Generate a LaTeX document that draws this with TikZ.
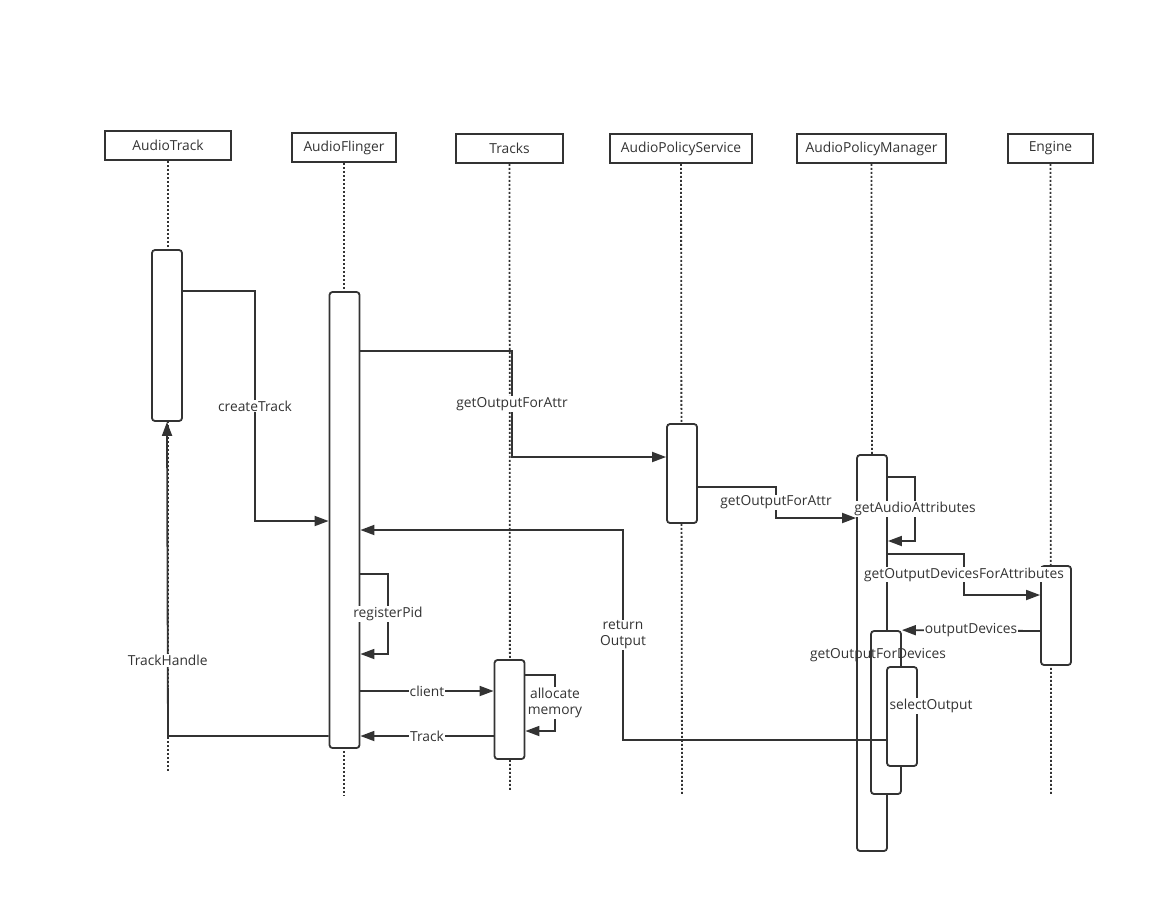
\documentclass[tikz,border=0pt]{standalone}
\usepackage{fontspec}
\setmainfont{Open Sans}
\usetikzlibrary{arrows.meta}
\definecolor{ink}{HTML}{333333}
\begin{document}
\begin{tikzpicture}[x=1pt,y=-1pt,
  every node/.style={font=\fontsize{13.8}{16}\selectfont, text=ink},
  head/.style={draw=ink, line width=1.8pt, fill=white, minimum height=29pt, inner sep=0pt},
  act/.style={draw=ink, line width=1.8pt, fill=white, rounded corners=3pt, minimum width=30pt, inner sep=0pt},
  life/.style={draw=ink, line width=1.8pt, dash pattern=on 2pt off 2pt},
  msg/.style={draw=ink, line width=1.8pt, -{Triangle[length=14pt,width=10pt]}},
  lbl/.style={fill=white, inner sep=1pt, align=center},
]
\useasboundingbox (0,0) rectangle (1155,913);
% lifeline ends
\coordinate (eAT) at (168,772);
\coordinate (eAF) at (344,795);
\coordinate (eTr) at (510,790);
\coordinate (eAPS) at (682,795);
\coordinate (eAPM) at (872,455);
\coordinate (eEng) at (1051,795);
% heads
\node[head, minimum width=126pt] (hAT) at (168,145.5) {AudioTrack};
\node[head, minimum width=104pt] (hAF) at (344,147.5) {AudioFlinger};
\node[head, minimum width=107pt] (hTr) at (509.5,148.5) {Tracks};
\node[head, minimum width=142pt] (hAPS) at (681,148.5) {AudioPolicyService};
\node[head, minimum width=149pt] (hAPM) at (871.5,148.5) {AudioPolicyManager};
\node[head, minimum width=85pt] (hEng) at (1050.5,148.5) {Engine};
% lifelines
\draw[life] (hAT.south) -- (eAT);
\draw[life] (hAF.south) -- (eAF);
\draw[life] (hTr.south) -- (eTr);
\draw[life] (hAPS.south) -- (eAPS);
\draw[life] (hAPM.south) -- (eAPM);
\draw[life] (hEng.south) -- (eEng);
% activations
\node[act, minimum height=171pt] (aAT) at (167,335.5) {};
\node[act, minimum height=456pt] (aAF) at (344.5,520) {};
\node[act, minimum height=99pt] (aTr) at (509.5,709.5) {};
\node[act, minimum height=99pt] (aAPS) at (682,473.5) {};
\node[act, minimum height=396pt] (aAPM) at (872,653) {};
\node[act, minimum height=163pt] (aOD) at (886,712.5) {};
\node[act, minimum height=99pt] (aSel) at (902,716.5) {};
\node[act, minimum height=99pt] (aEng) at (1056,615.5) {};
% messages
\draw[msg] (aAT.east |- 0,291) -- (255,291) -- node[lbl] {createTrack} (255,521) -- (aAF.west |- 0,521);
\draw[msg] (aAF.east |- 0,351) -- (512,351) -- node[lbl] {getOutputForAttr} (512,457) -- (aAPS.west |- 0,457);
\draw[msg] (aAPS.east |- 0,487) -- (776,487) -- node[lbl] {getOutputForAttr} (776,518) -- (aAPM.west |- 0,518);
\draw[msg] (aAPM.east |- 0,477) -- (915,477) -- node[lbl] {getAudioAttributes} (915,541) -- (aAPM.east |- 0,541);
\draw[msg] (aAPM.east |- 0,554) -- (964,554) -- node[lbl] {getOutputDevicesForAttributes} (964,595) -- (aEng.west |- 0,595);
\draw[msg] (aEng.west |- 0,631) -- node[lbl] {outputDevices} (aOD.north east);
\node[inner sep=1pt] (lOD) at (878,655) {getOutputForDevices};
\node[lbl] (lSel) at (931,706) {selectOutput};
\draw[msg] (aSel.west |- 0,740) -- (623,740) -- node[lbl] {return\\Output} (623,530) -- (aAF.east |- 0,530);
\draw[msg] (aAF.east |- 0,574) -- (388,574) -- node[lbl] {registerPid} (388,654) -- (aAF.east |- 0,654);
\draw[msg] (aAF.east |- 0,691) -- node[lbl] {client} (aTr.west |- 0,691);
\draw[msg] (aTr.east |- 0,675) -- (555,675) -- node[lbl] {allocate\\memory} (555,731) -- (aTr.east |- 0,731);
\draw[msg] (aTr.west |- 0,736) -- node[lbl] {Track} (aAF.east |- 0,736);
\draw[msg] (aAF.west |- 0,736) -- (168,736) -- node[lbl, pos=0.24] {TrackHandle} (aAT.south);
\end{tikzpicture}
\end{document}
